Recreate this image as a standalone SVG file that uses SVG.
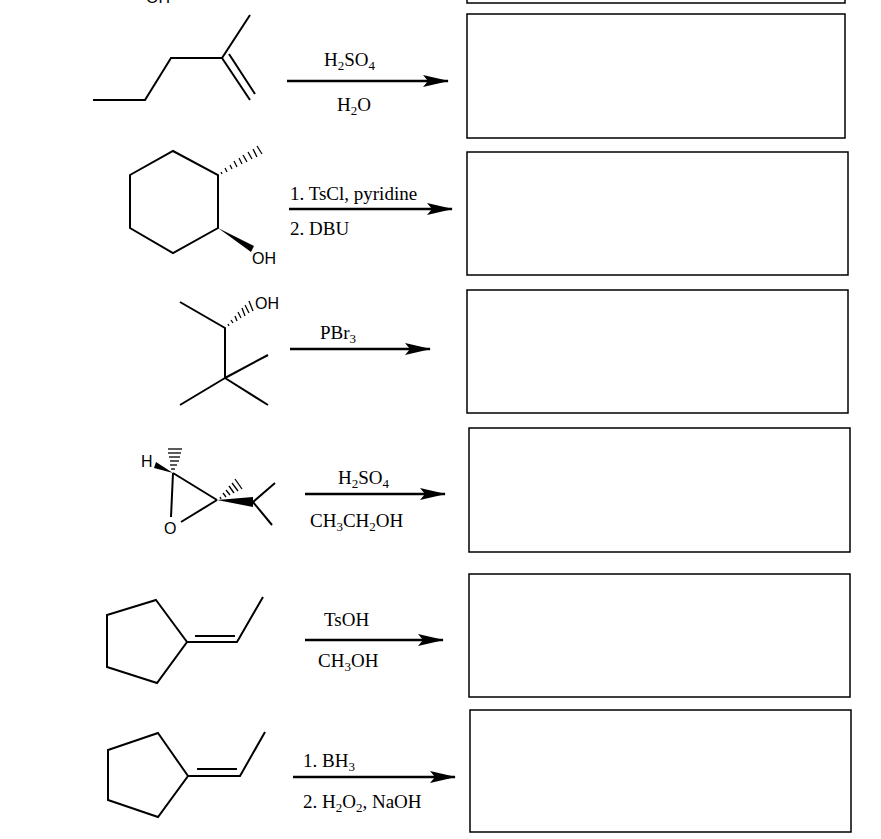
<svg xmlns="http://www.w3.org/2000/svg" width="881" height="839" viewBox="0 0 881 839">
<defs>
<style>
.b{fill:none;stroke:#000;stroke-width:2}
.box{fill:#fff;stroke:#000;stroke-width:1.5}
.t{font-family:"Liberation Serif",serif;font-size:19px;fill:#000}
.s{font-family:"Liberation Sans",sans-serif;font-size:16px;fill:#000}
.a{stroke:#000;stroke-width:2.5}
</style>
<marker id="ah" markerWidth="26" markerHeight="12" refX="25" refY="6" orient="auto" markerUnits="userSpaceOnUse"><path d="M0,0 L26,6 L0,12 L5,6z" fill="#000"/></marker>
</defs>
<rect width="881" height="839" fill="#fff"/>
<rect class="box" x="467" y="-5" width="378" height="8"/>
<text class="s" x="146" y="3">OH</text>
<g id="boxes">
<rect class="box" x="467" y="14" width="378" height="124"/>
<rect class="box" x="467" y="152" width="381" height="123"/>
<rect class="box" x="467" y="290" width="381" height="123"/>
<rect class="box" x="469" y="428" width="381" height="124"/>
<rect class="box" x="469" y="574" width="381" height="123"/>
<rect class="box" x="470" y="710" width="381" height="122"/>
</g>
<g id="arrows">
<line class="a" x1="287" y1="81" x2="448" y2="81" marker-end="url(#ah)"/>
<line class="a" x1="289" y1="209" x2="452" y2="209" marker-end="url(#ah)"/>
<line class="a" x1="290" y1="349" x2="430" y2="349" marker-end="url(#ah)"/>
<line class="a" x1="305" y1="494" x2="445" y2="494" marker-end="url(#ah)"/>
<line class="a" x1="305" y1="640" x2="443" y2="640" marker-end="url(#ah)"/>
<line class="a" x1="293" y1="777" x2="455" y2="777" marker-end="url(#ah)"/>
</g>
<g id="labels">
<text class="t" x="324" y="66">H<tspan font-size="13" dy="4">2</tspan><tspan dy="-4">SO</tspan><tspan font-size="13" dy="4">4</tspan></text>
<text class="t" x="337" y="111">H<tspan font-size="13" dy="4">2</tspan><tspan dy="-4">O</tspan></text>
<text class="t" x="290" y="200">1. TsCl, pyridine</text>
<text class="t" x="290" y="235">2. DBU</text>
<text class="t" x="320" y="339">PBr<tspan font-size="13" dy="4">3</tspan></text>
<text class="t" x="338" y="484">H<tspan font-size="13" dy="4">2</tspan><tspan dy="-4">SO</tspan><tspan font-size="13" dy="4">4</tspan></text>
<text class="t" x="310" y="527">CH<tspan font-size="13" dy="4">3</tspan><tspan dy="-4">CH</tspan><tspan font-size="13" dy="4">2</tspan><tspan dy="-4">OH</tspan></text>
<text class="t" x="324" y="626">TsOH</text>
<text class="t" x="318" y="667">CH<tspan font-size="13" dy="4">3</tspan><tspan dy="-4">OH</tspan></text>
<text class="t" x="303" y="767">1.  BH<tspan font-size="13" dy="4">3</tspan></text>
<text class="t" x="303" y="808">2. H<tspan font-size="13" dy="4">2</tspan><tspan dy="-4">O</tspan><tspan font-size="13" dy="4">2</tspan><tspan dy="-4">, NaOH</tspan></text>
</g>
<g id="m1">
<polyline class="b" points="93,100 145,100 171,58 222,58 250,15"/>
<line class="b" x1="222" y1="58" x2="250" y2="100"/>
<line class="b" x1="229" y1="54" x2="255" y2="94"/>
</g>
<g id="m2">
<polygon class="b" points="130,175 173,151 218,175 218,228 173,253 130,228"/>
<g stroke="#000" stroke-width="1.3">
<line x1="222" y1="174" x2="221" y2="172"/><line x1="227" y1="172" x2="225" y2="168"/><line x1="232" y1="169" x2="230" y2="165"/><line x1="237" y1="167" x2="234" y2="161"/><line x1="242" y1="164" x2="239" y2="158"/><line x1="247" y1="162" x2="243" y2="155"/><line x1="252" y1="159" x2="248" y2="152"/><line x1="257" y1="157" x2="253" y2="149"/><line x1="262" y1="154" x2="257" y2="146"/>
</g>
<polygon points="218,228 254,246 251,252" fill="#000"/>
<text class="s" x="252" y="264">OH</text>
</g>
<g id="m3">
<polyline class="b" points="180,302 225,328 225,378"/>
<line class="b" x1="225" y1="378" x2="268" y2="355"/>
<line class="b" x1="225" y1="378" x2="180" y2="405"/>
<line class="b" x1="225" y1="378" x2="268" y2="405"/>
<g stroke="#000" stroke-width="1.3">
<line x1="229" y1="326" x2="228" y2="324"/><line x1="233" y1="323" x2="231" y2="320"/><line x1="237" y1="321" x2="235" y2="316"/><line x1="241" y1="318" x2="238" y2="312"/><line x1="245" y1="316" x2="242" y2="308"/><line x1="249" y1="313" x2="245" y2="305"/><line x1="253" y1="311" x2="249" y2="301"/>
</g>
<text class="s" x="255" y="309">OH</text>
</g>
<g id="m4">
<line class="b" x1="173" y1="473" x2="217" y2="500"/>
<line class="b" x1="173" y1="473" x2="171" y2="517"/>
<line class="b" x1="181" y1="522" x2="217" y2="500"/>
<text class="s" x="164" y="534">O</text>
<text class="s" x="141" y="467">H</text>
<polygon points="173,473 156,462 154,468" fill="#000"/>
<g stroke="#000" stroke-width="1.3">
<line x1="171" y1="469" x2="175" y2="469"/><line x1="170" y1="465" x2="177" y2="465"/><line x1="170" y1="461" x2="179" y2="461"/><line x1="169" y1="457" x2="180" y2="457"/><line x1="168" y1="453" x2="181" y2="453"/><line x1="168" y1="449" x2="182" y2="449"/>
</g>
<g stroke="#000" stroke-width="1.3">
<line x1="220" y1="497" x2="221" y2="499"/><line x1="223" y1="493" x2="226" y2="497"/><line x1="226" y1="490" x2="230" y2="495"/><line x1="229" y1="486" x2="234" y2="493"/><line x1="232" y1="483" x2="238" y2="491"/><line x1="235" y1="479" x2="242" y2="489"/>
</g>
<polygon points="217,500 253,497 253,507" fill="#000"/>
<line class="b" x1="253" y1="502" x2="275" y2="483"/>
<line class="b" x1="253" y1="502" x2="272" y2="525"/>
</g>
<g id="m5">
<polygon class="b" points="156,600 187,642 157,683 107,667 107,615"/>
<polyline class="b" points="187,642 237,642 263,597"/>
<line class="b" x1="195" y1="636" x2="235" y2="636"/>
</g>
<g id="m6">
<polygon class="b" points="158,733 188,776 158,817 108,800 108,750"/>
<polyline class="b" points="188,776 240,776 265,732"/>
<line class="b" x1="197" y1="769" x2="237" y2="769"/>
</g>
</svg>
